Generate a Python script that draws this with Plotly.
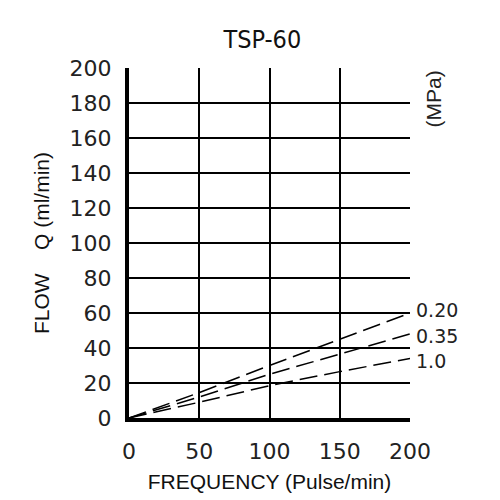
import plotly.graph_objects as go

freq = [0, 50, 100, 150, 200]
pressures = ["0.20", "0.35", "1.0"]
flow_020 = [0, 14.5, 30, 45, 60]
flow_035 = [0, 12, 25, 36.5, 48]
flow_100 = [0, 9, 18.5, 26.5, 34]
x_ticks = [0, 50, 100, 150, 200]
y_ticks = [0, 20, 40, 60, 80, 100, 120, 140, 160, 180, 200]

num_font = "DejaVu Sans, sans-serif"
txt_font = "Liberation Sans, Arial, sans-serif"

# small vertical nudges so the end labels don't collide
label_nudge = [3, -2, -2]

fig = go.Figure()
for name, flow, dy in zip(pressures, [flow_020, flow_035, flow_100], label_nudge):
    fig.add_trace(go.Scatter(
        x=freq, y=flow, mode="lines", name=name,
        line=dict(color="black", width=1.5, dash="18px,7px"),
        showlegend=False,
    ))
    fig.add_annotation(
        x=200, y=flow[-1], text=name, showarrow=False,
        xanchor="left", yanchor="middle", xshift=4, yshift=dy,
        font=dict(family=num_font, size=19, color="#222"),
    )

fig.add_annotation(
    x=200, y=182, text="(MPa)", showarrow=False, textangle=-90,
    xanchor="center", yanchor="middle", xshift=23,
    font=dict(family=txt_font, size=21, color="#222"),
)

# the page adds an 8px body margin, so the figure is 492 px
fig.update_layout(
    width=492, height=492,
    margin=dict(l=121, r=90, t=60, b=82),
    paper_bgcolor="white", plot_bgcolor="white",
    title=dict(text="TSP-60", x=0.517, xanchor="center", y=0.937, yanchor="middle",
               font=dict(family="DejaVu Sans Condensed, sans-serif",
                         size=25, color="#111")),
)
fig.update_xaxes(
    range=[0, 200], tickvals=x_ticks, ticks="", showgrid=True,
    gridcolor="black", gridwidth=2, zeroline=False,
    showline=True, linecolor="black", linewidth=4,
    ticklabelstandoff=11, automargin=False,
    tickfont=dict(family=num_font, size=22, color="#222"),
    title=dict(text="FREQUENCY (Pulse/min)", standoff=12,
               font=dict(family=txt_font, size=21, color="#111")),
)
fig.update_yaxes(
    range=[0, 200], tickvals=y_ticks, ticks="", showgrid=True,
    gridcolor="black", gridwidth=2, zeroline=False,
    showline=True, linecolor="black", linewidth=4,
    ticklabelstandoff=9, automargin=False,
    tickfont=dict(family=num_font, size=22, color="#222"),
    title=dict(text="FLOW\u00a0\u00a0\u00a0\u00a0Q (ml/min)", standoff=15,
               font=dict(family=txt_font, size=21, color="#111")),
)

fig.write_html("out.html")
